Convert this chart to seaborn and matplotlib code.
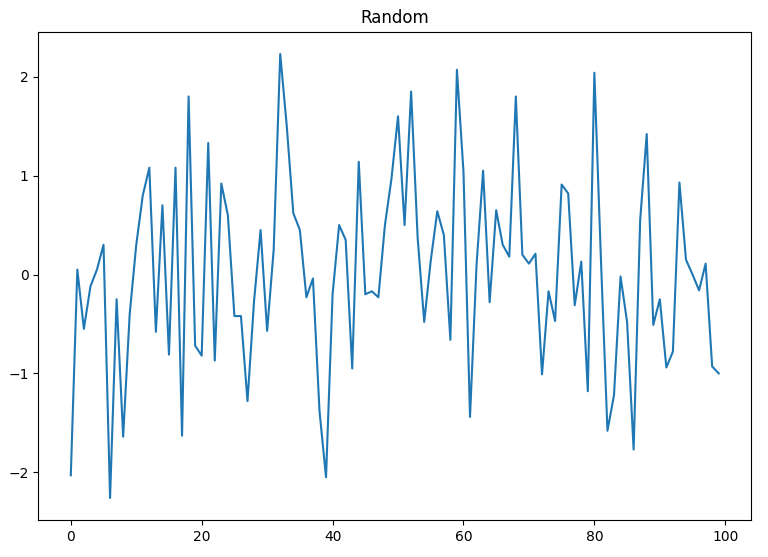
import numpy as np
import pandas as pd
import matplotlib
matplotlib.use('Agg')
import matplotlib.pyplot as plt
import seaborn as sns

# Valores
values = [-2.03, 0.05, -0.55, -0.12, 0.05, 0.30, -2.26, -0.25, -1.64, -0.40,
          0.30, 0.80, 1.08, -0.58, 0.70, -0.81, 1.08, -1.63, 1.80, -0.72,
          -0.82, 1.33, -0.87, 0.92, 0.60, -0.42, -0.42, -1.28, -0.27, 0.45,
          -0.57, 0.25, 2.23, 1.50, 0.62, 0.45, -0.23, -0.04, -1.38, -2.05,
          -0.20, 0.50, 0.35, -0.95, 1.14, -0.20, -0.17, -0.23, 0.50, 0.97,
          1.60, 0.50, 1.85, 0.37, -0.48, 0.14, 0.64, 0.40, -0.66, 2.07,
          1.04, -1.44, 0.10, 1.05, -0.28, 0.65, 0.30, 0.18, 1.80, 0.20,
          0.11, 0.21, -1.01, -0.17, -0.47, 0.91, 0.82, -0.31, 0.13, -1.18,
          2.04, 0.16, -1.58, -1.22, -0.02, -0.48, -1.77, 0.55, 1.42, -0.51,
          -0.25, -0.94, -0.78, 0.93, 0.15, 0.00, -0.16, 0.11, -0.93, -1.00]
index = list(range(len(values)))

df = pd.DataFrame({'x': index, 'y': values})

fig, ax = plt.subplots(figsize=(7.68, 5.57), dpi=100)
sns.lineplot(data=df, x='x', y='y', ax=ax, color='#1f77b4', linewidth=1.5)
ax.set_title('Random')
ax.set_xlabel('')
ax.set_ylabel('')
ax.set_xticks([0, 20, 40, 60, 80, 100])
ax.set_yticks([-2, -1, 0, 1, 2])
fig.subplots_adjust(left=0.05, right=0.978, top=0.943, bottom=0.066)
plt.savefig('out.png', dpi=100)
